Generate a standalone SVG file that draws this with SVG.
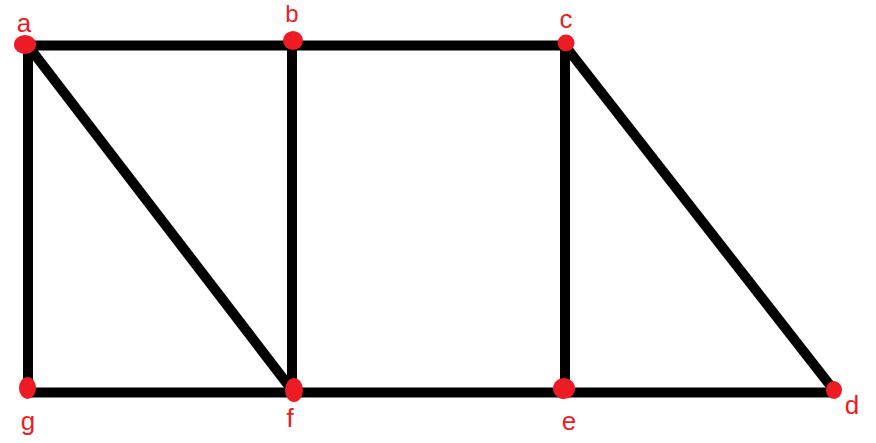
<svg xmlns="http://www.w3.org/2000/svg" width="876" height="443" viewBox="0 0 876 443">
<style>
.e{stroke:#000;stroke-width:10;fill:none;stroke-linecap:butt}
.n{fill:#ED1C24}
.l{fill:#ED1C24;font-family:"Liberation Sans",Arial,sans-serif;font-size:26px;text-anchor:middle}
</style>
<rect width="876" height="443" fill="#fff"/>
<g id="edges">
<line class="e" x1="25" y1="45.5" x2="565" y2="45.5"/>
<line class="e" x1="28" y1="45" x2="28" y2="392"/>
<line class="e" x1="292" y1="45" x2="292" y2="392"/>
<line class="e" x1="565" y1="45" x2="565" y2="392"/>
<line class="e" x1="28" y1="392.5" x2="834" y2="392.5"/>
<line class="e" x1="29" y1="47" x2="292" y2="390"/>
<line class="e" x1="566" y1="47" x2="833" y2="389"/>
</g>
<g id="node-a"><ellipse class="n" cx="25" cy="44.5" rx="11" ry="9.5"/><text class="l" x="24" y="32">a</text></g>
<g id="node-b"><ellipse class="n" cx="293" cy="40.5" rx="10" ry="9.5"/><text class="l" x="292" y="22" style="font-size:24px">b</text></g>
<g id="node-c"><ellipse class="n" cx="566" cy="43" rx="8.5" ry="8.5"/><text class="l" x="566" y="28">c</text></g>
<g id="node-d"><ellipse class="n" cx="834" cy="390" rx="8" ry="9"/><text class="l" x="852" y="414">d</text></g>
<g id="node-e"><ellipse class="n" cx="564" cy="388.5" rx="11" ry="10.5"/><text class="l" x="569" y="430">e</text></g>
<g id="node-f"><ellipse class="n" cx="294" cy="390" rx="9" ry="12"/><text class="l" x="290" y="427">f</text></g>
<g id="node-g"><ellipse class="n" cx="27.5" cy="388" rx="8.5" ry="11"/><text class="l" x="28" y="430">g</text></g>
</svg>
